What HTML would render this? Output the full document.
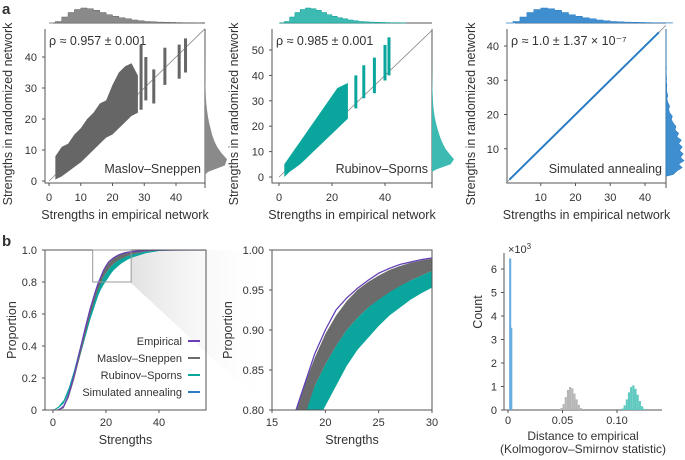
<!DOCTYPE html>
<html><head><meta charset="utf-8"><style>
html,body{margin:0;background:#fff;overflow:hidden;width:685px;height:460px}
svg{display:block;font-family:"Liberation Sans",sans-serif;fill:#333;overflow:hidden}
text{font-size:11px;fill:#333}
.lab{font-size:12.5px}
.lab2{font-size:12px}
</style></head><body>
<svg id="fig" width="685" height="460" viewBox="0 0 685 460" xmlns="http://www.w3.org/2000/svg">
<defs><linearGradient id="fan" x1="0" x2="1" y1="0" y2="0"><stop offset="0" stop-color="#aaa" stop-opacity="0.35"/><stop offset="1" stop-color="#fff" stop-opacity="0"/></linearGradient></defs>
<text x="2" y="14" style="font-size:15px;font-weight:bold">a</text>
<text x="2" y="246" style="font-size:15px;font-weight:bold">b</text>
</svg>
<script>
// ---------- data ----------
const msBandX=[2,4,6,8,10,12,14,16,18,20,22,24,26,28];
const msBandLo=[0.5,1.5,3,4.5,6,8,10,12,14,15,17,19,21,22];
const msBandHi=[8,11,12,15,17,20,22,25,26,31,35,37,38,34];
const msBarX=[29,30.5,33,36.5,41,43];
const msBarLo=[23,26,25,31,33,35];
const msBarHi=[44,40,36,43,44,46];
const rbBandX=[2,4,6,8,10,12,14,16,18,20,22,24,26];
const rbBandLo=[0,2,3.5,5,7,9,11,13,15,17,19,21,23];
const rbBandHi=[5,8,11,14,17,20,23,26,29,32,35,36,37];
const rbBarX=[29,32,36,40,41.5];
const rbBarLo=[27,31,33,38,40];
const rbBarHi=[40,44,47,52,55];
const saLine=[1,44];
const topHist=[0,0.1,0.4,0.7,0.9,1,0.95,0.85,0.7,0.55,0.45,0.35,0.28,0.2,0.15,0.1,0.08,0.06,0.05,0.04,0.03,0.02,0.02,0.01];
const msRightHist=[0.15,0.9,1,0.75,0.55,0.42,0.32,0.25,0.18,0.13,0.09,0.06,0.04,0.03,0.02,0.01,0.01,0.005,0.005,0.003,0.002,0.001,0.001];
const rbRightHist=[0.2,0.85,1,0.8,0.62,0.5,0.4,0.32,0.25,0.19,0.14,0.1,0.07,0.05,0.04,0.03,0.02,0.015,0.01,0.006,0.004,0.003,0.002,0.001,0.001,0.001,0.001];
const saRightHist=[0.4,0.6,0.9,0.7,1,0.8,0.95,0.75,0.9,0.7,0.85,0.6,0.7,0.5,0.55,0.4,0.3,0.35,0.2,0.15,0.2,0.1,0.05,0.1,0.05,0.03,0.05,0.02,0.03,0.02,0.01,0.02,0.01,0.01,0.01,0.01,0.01,0.01,0.01,0.01,0.01,0.01,0.01];
const cdfX=[0,2,4,6,8,10,12,14,16,17,18,19,20,21,22,23,24,25,26,27,28,29,30,35,40,50,57];
const empCdf=[0,0,0.02,0.1,0.22,0.36,0.5,0.63,0.74,0.79,0.83,0.87,0.9,0.925,0.94,0.952,0.962,0.971,0.977,0.982,0.985,0.988,0.99,0.997,0.999,1,1];
const msLo=[0,0,0.01,0.08,0.19,0.32,0.46,0.59,0.7,0.75,0.79,0.83,0.857,0.88,0.9,0.915,0.928,0.938,0.947,0.955,0.962,0.968,0.974,0.99,0.998,1,1];
const msHi=[0,0,0.03,0.11,0.23,0.37,0.51,0.64,0.745,0.79,0.83,0.865,0.895,0.918,0.936,0.95,0.96,0.968,0.975,0.98,0.984,0.987,0.989,0.997,0.999,1,1];
const rsLo=[0,0.01,0.04,0.11,0.21,0.32,0.44,0.56,0.66,0.71,0.75,0.78,0.805,0.83,0.855,0.875,0.89,0.905,0.918,0.928,0.938,0.946,0.953,0.98,0.994,1,1];
const rsHi=[0,0.02,0.06,0.14,0.25,0.38,0.5,0.62,0.71,0.755,0.795,0.83,0.857,0.88,0.9,0.915,0.928,0.94,0.949,0.956,0.962,0.968,0.974,0.99,0.998,1,1];
const ksX=[0.002,0.003,0.049,0.051,0.053,0.055,0.057,0.059,0.061,0.063,0.065,0.067,0.105,0.107,0.109,0.111,0.113,0.115,0.117,0.119,0.121,0.123,0.125];
const ksCount=[6450,3500,80,250,550,850,980,920,700,450,220,80,60,200,450,750,980,1050,900,650,380,160,50];
const ksSeries=['sa','sa','ms','ms','ms','ms','ms','ms','ms','ms','ms','ms','rs','rs','rs','rs','rs','rs','rs','rs','rs','rs','rs'];
const ksColor={sa:'#6aaee0',ms:'#b5b5b5',rs:'#5cc8c0'};

// ---------- helpers ----------
const svg=document.getElementById('fig');const NS='http://www.w3.org/2000/svg';
function mk(tag,at,parent){const e=document.createElementNS(NS,tag);for(const k in at)e.setAttribute(k,at[k]);(parent||svg).appendChild(e);return e;}
function txt(x,y,s,anchor,cls,rot){const t=mk('text',{x:x,y:y,'text-anchor':anchor||'middle'});if(cls)t.setAttribute('class',cls);if(rot)t.setAttribute('transform','rotate(-90 '+x+' '+y+')');t.textContent=s;return t;}
function lin(d0,d1,r0,r1){return v=>r0+(v-d0)/(d1-d0)*(r1-r0);}
function axisLines(x0,x1,y0,y1){const l=mk('path',{d:`M${x0},${y0}V${y1}H${x1}`,fill:'none',stroke:'#555','stroke-width':1});return l;}

// ---------- scatter panels ----------
function scatter(opts){
 const sx=lin(opts.xd[0],opts.xd[1],opts.xr[0],opts.xr[1]),sy=lin(opts.yd[0],opts.yd[1],opts.yr[0],opts.yr[1]);
 const L=opts.L,R=opts.R,T=opts.T,B=opts.B;
 const ax=axisLines(L,R,T,B);
 const rs=mk('line',{x1:R,x2:R,y1:T,y2:B+5,stroke:'#555'});
 const ts=mk('line',{x1:L+8,x2:R,y1:T-6,y2:T-6,stroke:'#555'});
 opts.xt.forEach(v=>{const t=txt(sx(v),B+18,String(v));mk('line',{x1:sx(v),x2:sx(v),y1:B,y2:B+3,stroke:'#555'});});
 opts.yt.forEach(v=>{const t=txt(L-8,sy(v)+4,String(v),'end');mk('line',{x1:L-3,x2:L,y1:sy(v),y2:sy(v),stroke:'#555'});});
 const xl=txt((L+R)/2,B+36,'Strengths in empirical network',null,'lab');
 const yl=txt(opts.ylx,(T+B)/2+8,'Strengths in randomized network',null,'lab',true);
 const d=mk('line',{x1:sx(opts.xd[0]),y1:sy(opts.xd[0]),x2:R,y2:sy(opts.xd[0]+(R-sx(opts.xd[0]))/((opts.xr[1]-opts.xr[0])/(opts.xd[1]-opts.xd[0]))),stroke:'#888','stroke-width':0.8});
 
 const bw=2;let p=`M${sx(0)},${T-6}`;topHist.forEach((h,i)=>{p+=`V${T-6-h*opts.topH}H${sx((i+1)*bw)}`;});p+=`V${T-6}Z`;
 const th=mk('path',{d:p,fill:opts.histC,stroke:opts.col,'stroke-width':0.5});
 const rh=opts.right;let q=`M${R},${sy(opts.rStart)}`;rh.forEach((h,i)=>{const v=opts.rStart+i*opts.rBin;q+=`L${R+h*opts.rW},${sy(v+opts.rBin/2)}`;});q+=`L${R},${sy(opts.rStart+rh.length*opts.rBin)}Z`;
 const rp=mk('path',{d:q,fill:opts.histC,stroke:opts.rStroke||'none','stroke-width':0.6});
 const lb=txt(R-4,B-10,opts.name,'end','lab');
 const rho=txt(L+4,T+16,opts.rho,'start','lab');
 return {sx,sy};
}
function band(sx,sy,xs,lo,hi,col,name){let p='';xs.forEach((x,i)=>{p+=(i?'L':'M')+sx(x)+','+sy(hi[i]);});for(let i=xs.length-1;i>=0;i--)p+='L'+sx(xs[i])+','+sy(lo[i]);p+='Z';const e=mk('path',{d:p,fill:col});}
function bars(sx,sy,xs,lo,hi,col,name){xs.forEach((x,i)=>{const e=mk('line',{x1:sx(x),x2:sx(x),y1:sy(lo[i]),y2:sy(hi[i]),stroke:col,'stroke-width':3});});}

let a=scatter({id:'maslov',L:45,R:205,T:29,B:183,xd:[0,40],xr:[49,176],yd:[0,40],yr:[181,57],xt:[0,10,20,30,40],yt:[0,10,20,30,40],ylx:12,col:'#666',histC:'#8a8a8a',topH:15,right:msRightHist,rStart:2,rBin:2,rW:22,name:'Maslov–Sneppen',rho:'ρ ≈ 0.957 ± 0.001'});
band(a.sx,a.sy,msBandX,msBandLo,msBandHi,'#666','maslov-scatter-band');bars(a.sx,a.sy,msBarX,msBarLo,msBarHi,'#666','maslov-scatter-bar');
let b=scatter({id:'rubinov',L:272,R:432,T:29,B:183,xd:[0,40],xr:[279,385],yd:[0,50],yr:[177,50],xt:[0,20,40],yt:[0,10,20,30,40,50],ylx:238,col:'#0a9e96',histC:'#3dbab2',topH:15,right:rbRightHist,rStart:2,rBin:2,rW:22,name:'Rubinov–Sporns',rho:'ρ ≈ 0.985 ± 0.001'});
band(b.sx,b.sy,rbBandX,rbBandLo,rbBandHi,'#0aa59c','rubinov-scatter-band');bars(b.sx,b.sy,rbBarX,rbBarLo,rbBarHi,'#0aa59c','rubinov-scatter-bar');
let c=scatter({id:'annealing',L:507,R:666,T:29,B:183,xd:[0,40],xr:[506,645],yd:[0,40],yr:[183,46],xt:[10,20,30,40],yt:[10,20,30,40],ylx:475,col:'#2a7cc4',histC:'#3f8fd0',topH:15,right:saRightHist,rStart:2,rBin:1,rW:18,rStroke:'#2a7cc4',name:'Simulated annealing',rho:'ρ ≈ 1.0 ± 1.37 × 10⁻⁷'});
const sl=mk('line',{x1:c.sx(saLine[0]),y1:c.sy(saLine[0]),x2:c.sx(saLine[1]),y2:c.sy(saLine[1]),stroke:'#2a7cc4','stroke-width':2});


// ---------- CDF panels ----------
const fan=mk('polygon',{points:'131,250 268,250 268,410 131,283',fill:'url(#fan)'});

function cdfPanel(id,L,R,T,B,xd,yd,xt,yt,fmt){
 const sx=lin(xd[0],xd[1],L,R),sy=lin(yd[0],yd[1],B,T);
 const cp=mk('clipPath',{id:id+'-clip'});mk('rect',{x:L,y:T,width:R-L,height:B-T},cp);
 const g=mk('g',{'clip-path':`url(#${id}-clip)`});
 function bnd(lo,hi,col,nm){let p='';cdfX.forEach((x,i)=>{p+=(i?'L':'M')+sx(x)+','+sy(hi[i]);});for(let i=cdfX.length-1;i>=0;i--)p+='L'+sx(cdfX[i])+','+sy(lo[i]);const e=mk('path',{d:p+'Z',fill:col},g);}
 function ln(v,col,w,nm){let p='';cdfX.forEach((x,i)=>{p+=(i?'L':'M')+sx(x)+','+sy(v[i]);});const e=mk('path',{d:p,fill:'none',stroke:col,'stroke-width':w},g);}
 bnd(rsLo,rsHi,'#0aa59c',id+'-rubinov-band');bnd(msLo,msHi,'#6b6b6b',id+'-maslov-band');ln(empCdf,'#2a7cc4',1,id+'-annealing-line');ln(empCdf,'#6a3fb5',1.2,id+'-empirical-line');
 const f=mk('rect',{x:L,y:T,width:R-L,height:B-T,fill:'none',stroke:'#555'});
 xt.forEach(v=>{mk('line',{x1:sx(v),x2:sx(v),y1:B,y2:B+3,stroke:'#555'});const t=txt(sx(v),B+16,String(v));});
 yt.forEach(v=>{mk('line',{x1:L-3,x2:L,y1:sy(v),y2:sy(v),stroke:'#555'});const t=txt(L-8,sy(v)+4,fmt(v),'end');});
 const xl=txt((L+R)/2,B+34,'Strengths',null,'lab');
 return {sx,sy};
}
const p1=cdfPanel('cdf',45,206,250,410,[-3,57.75],[0,1],[0,20,40],[0,0.2,0.4,0.6,0.8,1.0],v=>v===0?'0':v.toFixed(1));
const zb=mk('rect',{x:p1.sx(15),y:p1.sy(1),width:p1.sx(29.5)-p1.sx(15),height:p1.sy(0.8)-p1.sy(1),fill:'none',stroke:'#999'});

const yl1=txt(16,330,'Proportion',null,'lab',true);
const leg=[['Empirical','#6a3fb5'],['Maslov–Sneppen','#6b6b6b'],['Rubinov–Sporns','#0aa59c'],['Simulated annealing','#2a7cc4']];
leg.forEach((l,i)=>{const t=txt(182,345+i*17,l[0],'end');const s=mk('line',{x1:188,x2:200,y1:341+i*17,y2:341+i*17,stroke:l[1],'stroke-width':2});});
cdfPanel('zoom',272,432,250,410,[15,30],[0.8,1],[15,20,25,30],[0.8,0.85,0.9,0.95,1.0],v=>v.toFixed(2));
const yl2=txt(232,330,'Proportion',null,'lab',true);

// ---------- KS histogram ----------
(function(){
 const L=504,R=662,B=410,T=253;const sx=lin(0,0.1,508,617),sy=lin(0,6000,410,269);
 const ax=axisLines(L,R,T,B);
 ksX.forEach((x,i)=>{const w=2.1;const r=mk('rect',{x:sx(x)-w/2,y:sy(ksCount[i]),width:w,height:B-sy(ksCount[i]),fill:ksColor[ksSeries[i]]});});
 [0,0.05,0.1].forEach(v=>{mk('line',{x1:sx(v),x2:sx(v),y1:B,y2:B+3,stroke:'#555'});const t=txt(sx(v),B+14,v===0?'0':v.toFixed(2));});
 [0,1,2,3,4,5,6].forEach(v=>{mk('line',{x1:L-3,x2:L,y1:sy(v*1000),y2:sy(v*1000),stroke:'#555'});const t=txt(L-7,sy(v*1000)+4,String(v),'end');});
 const m=mk('text',{x:508,y:253,'text-anchor':'start'});m.innerHTML='×10<tspan dy="-4" style="font-size:8px">3</tspan>';
 const yl=txt(482,312,'Count',null,'lab',true);
 const x1=txt(583,440,'Distance to empirical',null,'lab2');
 const x2=txt(583,453,'(Kolmogorov–Smirnov statistic)',null,'lab2');
})();
</script>
</body></html>
